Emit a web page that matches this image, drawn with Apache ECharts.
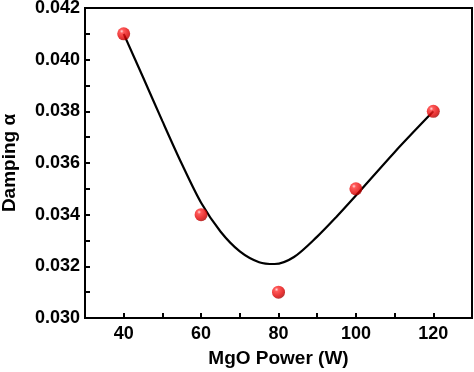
<!DOCTYPE html>
<html><head><meta charset="utf-8">
<script src="https://cdn.jsdelivr.net/npm/echarts@6/dist/echarts.min.js"></script>
<style>html,body{margin:0;padding:0;background:#fff}#c{width:474px;height:372px}</style>
</head><body><div id="c"></div>
<script>
const powers = [40, 60, 80, 100, 120];
const damping = [0.041, 0.034, 0.031, 0.035, 0.038];
const fitX = [40, 45, 50, 55, 60, 65, 70, 75, 79, 84, 90, 95, 100, 110, 120];
const fitY = [0.0410, 0.03932, 0.03762, 0.03597, 0.03446, 0.03335, 0.03258, 0.03216, 0.03209, 0.03236, 0.03315, 0.03392, 0.03474, 0.03642, 0.0380];
const xTicks = [40, 60, 80, 100, 120];
const yTicks = [0.030, 0.032, 0.034, 0.036, 0.038, 0.040, 0.042];

const chart = echarts.init(document.getElementById('c'));
const font = 'Liberation Sans, Arial, sans-serif';
chart.setOption({
  animation: false,
  grid: {left: 85, right: 2, top: 8, bottom: 54, show: true, borderColor: '#000', borderWidth: 2,
         containLabel: false, outerBoundsMode: 'none'},
  xAxis: {
    type: 'value', min: 30, max: 130, interval: 10,
    name: 'MgO Power (W)', nameLocation: 'middle', nameGap: 41,
    nameTextStyle: {fontFamily: font, fontWeight: 'bold', fontSize: 19, color: '#000', verticalAlign: 'middle'},
    axisLine: {lineStyle: {color: '#000', width: 2}},
    axisTick: {inside: true, length: 5, lineStyle: {color: '#000', width: 2}},
    splitLine: {show: false},
    axisLabel: {fontFamily: font, fontWeight: 'bold', fontSize: 18, color: '#000', margin: 7,
      formatter: v => xTicks.includes(v) ? String(v) : ''}
  },
  yAxis: {
    type: 'value', min: 0.030, max: 0.042, interval: 0.001,
    name: 'Damping α', nameLocation: 'middle', nameGap: 75,
    nameTextStyle: {fontFamily: font, fontWeight: 'bold', fontSize: 19, color: '#000', verticalAlign: 'middle'},
    axisLine: {lineStyle: {color: '#000', width: 2}},
    axisTick: {inside: true, length: 5, lineStyle: {color: '#000', width: 2}},
    splitLine: {show: false},
    axisLabel: {fontFamily: font, fontWeight: 'bold', fontSize: 18, color: '#000', margin: 5,
      formatter: v => yTicks.some(t => Math.abs(t - v) < 1e-6) ? v.toFixed(3) : ''}
  },
  series: [
    {type: 'line', data: fitX.map((x,i)=>[x, fitY[i]]), smooth: 0.3, showSymbol: false,
     lineStyle: {color: '#000', width: 2.2}, z: 2},
    {type: 'scatter', data: powers.map((x,i)=>[x, damping[i]]), symbolSize: 13, z: 3,
     itemStyle: {color: new echarts.graphic.RadialGradient(0.35, 0.3, 0.75, [
       {offset: 0, color: '#ffd0d0'}, {offset: 0.2, color: '#ff3030'}, {offset: 0.7, color: '#e00000'}, {offset: 1, color: '#a00000'}])}}
  ]
});
</script></body></html>
